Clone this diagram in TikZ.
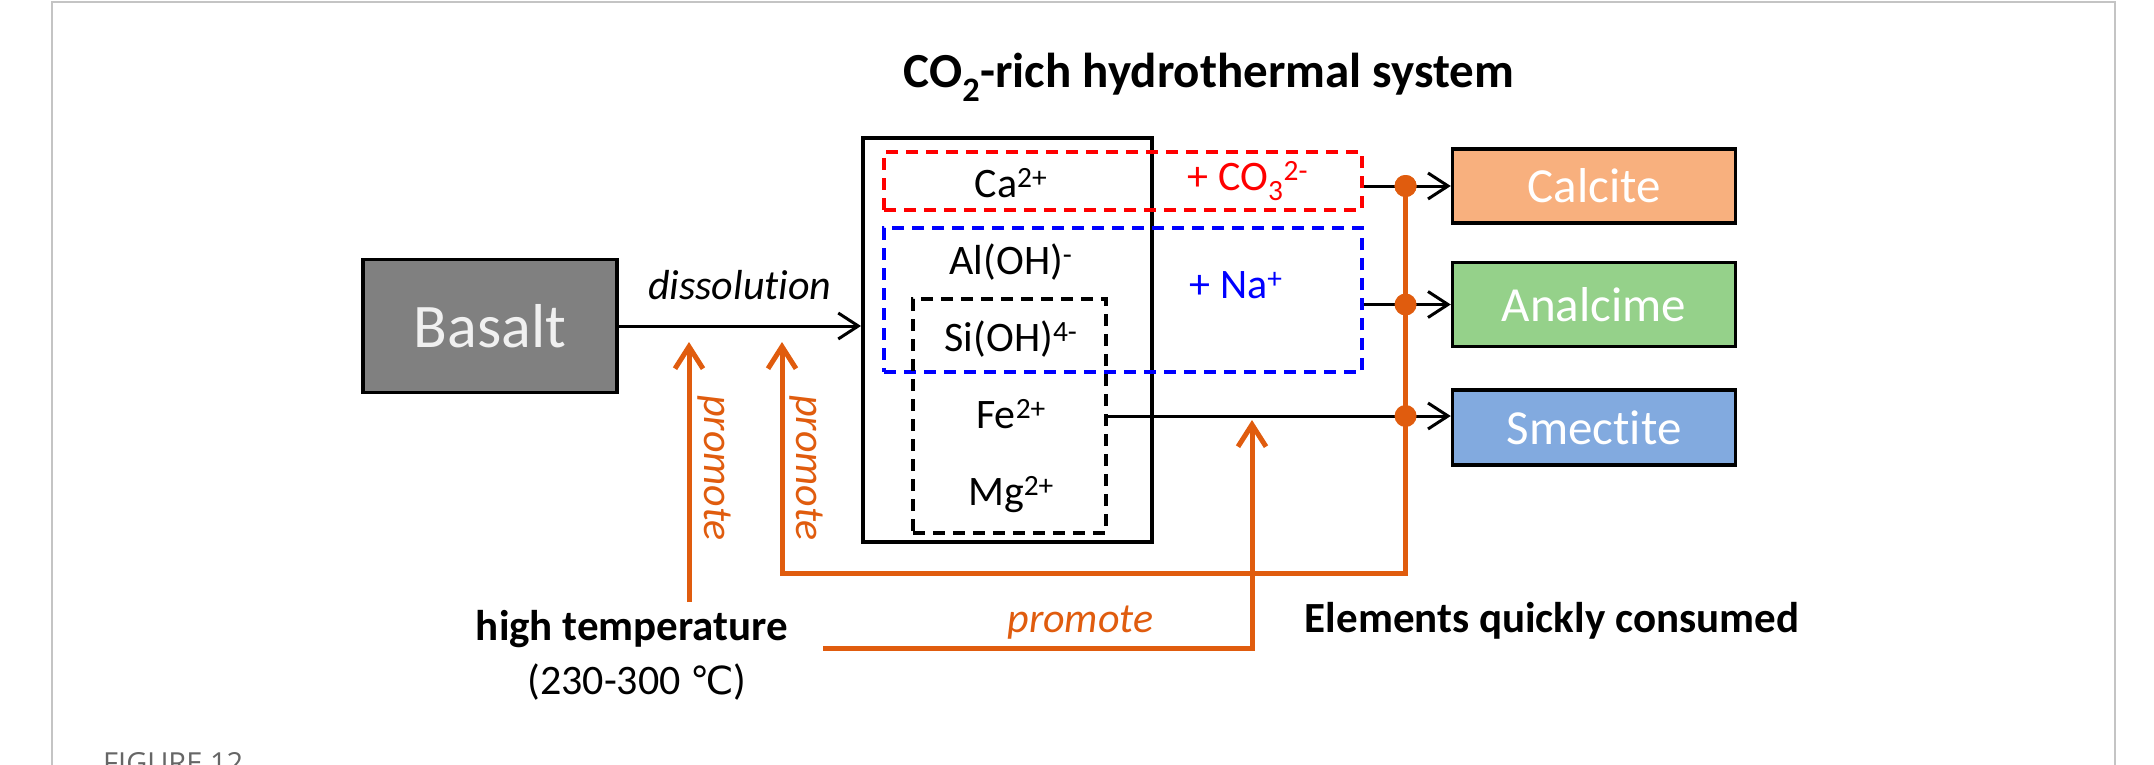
\documentclass[tikz,border=0pt]{standalone}
\usepackage{fontspec}
\setmainfont[Ligatures=NoCommon]{Carlito}
\newfontfamily\capfont{Open Sans}
\newfontfamily\symfont[Scale=0.92]{DejaVu Sans}
\usetikzlibrary{positioning,arrows.meta}
\definecolor{rockgray}{HTML}{808080}
\definecolor{calcfill}{HTML}{F8B07E}
\definecolor{analfill}{HTML}{95D18A}
\definecolor{smecfill}{HTML}{82AADF}
\definecolor{promo}{HTML}{E05C0E}
\definecolor{framegray}{HTML}{C4C4C4}
\newcommand{\fsz}[1]{\fontsize{#1}{#1}\selectfont}
\tikzset{
  rock/.style={draw, line width=3.5pt, fill=rockgray, text=white!94!black,
    font=\fsz{62}, minimum width=254pt, minimum height=133pt, inner sep=0pt},
  mineral/.style={draw, line width=3.5pt, text=white, font=\fsz{49},
    minimum width=283pt, inner sep=0pt},
  pool/.style={draw, line width=4pt, minimum width=289pt, minimum height=404pt},
  group/.style={draw, line width=3.2pt, dash pattern=on 12pt off 8pt, inner sep=0pt},
  ion/.style={font=\fsz{42}, anchor=base, inner sep=0pt},
  flow/.style={-{Straight Barb[length=20pt, width=26pt]}, line width=3pt},
  flowlabel/.style={font=\fsz{42}\itshape, inner sep=0pt},
  boost/.style={promo, -{Straight Barb[length=22pt, width=28pt]}, line width=5pt},
  boostlabel/.style={text=promo, font=\fsz{42}\itshape, inner sep=0pt},
  joint/.style={circle, fill=promo, minimum size=22pt, inner sep=0pt},
  caption/.style={font=\fsz{43}\bfseries, anchor=base, inner sep=0pt},
}

\begin{document}
\begin{tikzpicture}[x=1pt, y=-1pt]
  \useasboundingbox (0,0) rectangle (2154,765);
  \draw[framegray, line width=2pt] (52,765) -- (52,2) -- (2115,2) -- (2115,765);
  \node[anchor=north west, inner sep=0pt, text=black!60, font=\capfont\fsz{29}] (fig) at (103,752) {FIGURE 12};

  \node[caption, font=\fsz{49}\bfseries] (title) at (1209,88) {CO\textsubscript{2}-rich hydrothermal system};

  % basalt and the solution pool
  \node[rock] (basalt) at (490,326) {Basalt};
  \node[pool] (pool) at (1007.5,340) {};
  \node[group, red, minimum width=478pt, minimum height=58pt] (cabox) at (1123,181) {};
  \node[group, blue, minimum width=478pt, minimum height=144pt] (nabox) at (1123,300) {};
  \node[group, minimum width=193pt, minimum height=234pt] (febox) at (1009.5,416) {};
  \node[ion] (ca) at (1011,197) {Ca\textsuperscript{2+}};
  \node[ion] (al) at (1011,274) {Al(OH)\textsuperscript{-}};
  \node[ion] (si) at (1011,351) {Si(OH)\textsuperscript{4-}};
  \node[ion] (fe) at (1011,428) {Fe\textsuperscript{2+}};
  \node[ion] (mg) at (1011,505) {Mg\textsuperscript{2+}};
  \node[ion, text=red] (carb) at (1248,190) {+ CO\textsubscript{3}\textsuperscript{2-}};
  \node[ion, text=blue] (sod) at (1236,298) {+ Na\textsuperscript{+}};

  % products
  \node[mineral, fill=calcfill, minimum height=74pt] (calcite) at (1594,186) {Calcite};
  \node[mineral, fill=analfill, minimum height=84pt, below=36pt of calcite] (analcime) {Analcime};
  \node[mineral, fill=smecfill, minimum height=75pt, below=40pt of analcime] (smectite) {Smectite};

  \node[caption] (hitemp) at (632,640) {high temperature};
  \node[ion] (hirange) at (637,694) {(230-300 {\symfont ℃})};
  \node[caption] (consumed) at (1552,632) {Elements quickly consumed};

  \draw[flow] (basalt.east) -- node[flowlabel, above=25pt]{dissolution} (basalt.east -| pool.west);
  \draw[flow] (cabox.east |- calcite.west) -- (calcite.west);
  \draw[flow] (nabox.east |- analcime.west) -- (analcime.west);
  \draw[flow] (febox.east) -- (febox.east -| smectite.west);

  \node[joint, left=34pt of calcite.west] (jcal) {};
  \node[joint] (jana) at (jcal |- analcime.west) {};
  \node[joint] (jsme) at (jcal |- febox.east) {};

  \coordinate (tip1) at (689,342);
  \coordinate (from1) at (689,602);
  \coordinate (tip2) at (782,342);
  \coordinate (loopy) at (0,573);
  \coordinate (tip3) at (1252,420);
  \coordinate (from3) at (823,648);
  \draw[boost] (from1) -- (tip1);
  \draw[boost] (jcal.center) -- (jcal.center |- loopy) -| (tip2);
  \draw[boost] (from3) -| node[boostlabel, pos=0.3, above=6pt]{promote} (tip3);
  \node[boostlabel, rotate=-90] (pr1) at (714,468) {promote};
  \node[boostlabel, rotate=-90] (pr2) at (806,468) {promote};
  \node[joint] at (jcal) {};
\end{tikzpicture}
\end{document}
